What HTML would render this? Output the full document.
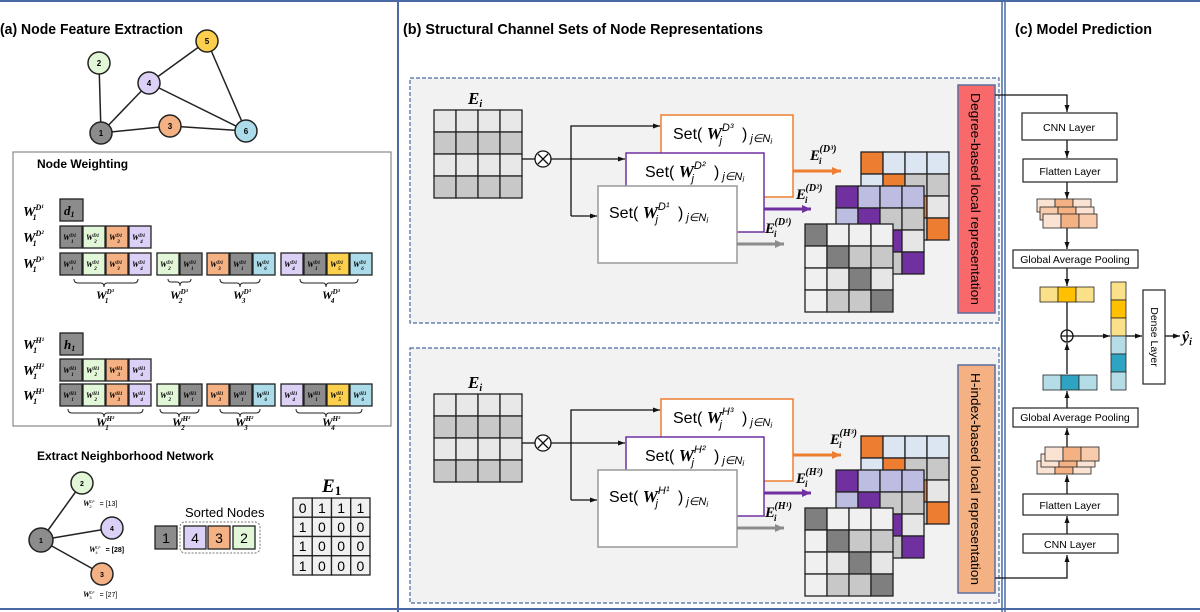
<!DOCTYPE html>
<html><head><meta charset="utf-8"><style>
body{margin:0;background:#fff}
svg{display:block;font-family:"Liberation Sans",sans-serif}
.t{font-weight:bold;font-size:15px}
.m{font-family:"Liberation Serif",serif;font-weight:bold;font-style:italic}
.c{font-family:"Liberation Serif",serif;font-weight:bold;font-style:italic;font-size:8px}
.s{font-size:5px}
.k{stroke:#222;stroke-width:1.5}
.cell{stroke:#222;stroke-width:1.3}
.lbl{font-size:11px}
</style></head><body>
<svg width="1200" height="612" viewBox="0 0 1200 612" xmlns="http://www.w3.org/2000/svg">
<defs>
<marker id="ab" markerWidth="8" markerHeight="8" refX="7" refY="4" orient="auto" markerUnits="userSpaceOnUse"><path d="M0,1.5 L7,4 L0,6.5z" fill="#111"/></marker>
<marker id="ao" markerWidth="10" markerHeight="10" refX="9" refY="5" orient="auto" markerUnits="userSpaceOnUse"><path d="M0,1 L9,5 L0,9z" fill="#ed7d31"/></marker>
<marker id="ap" markerWidth="10" markerHeight="10" refX="9" refY="5" orient="auto" markerUnits="userSpaceOnUse"><path d="M0,1 L9,5 L0,9z" fill="#7030a0"/></marker>
<marker id="ag" markerWidth="10" markerHeight="10" refX="9" refY="5" orient="auto" markerUnits="userSpaceOnUse"><path d="M0,1 L9,5 L0,9z" fill="#8c8c8c"/></marker>
</defs>

<!-- frame -->
<line x1="0" y1="1" x2="1200" y2="1" stroke="#4a6aa5" stroke-width="2"/>
<line x1="0" y1="609" x2="1200" y2="609" stroke="#4a6aa5" stroke-width="2"/>
<line x1="398" y1="0" x2="398" y2="612" stroke="#4a6aa5" stroke-width="2"/>
<line x1="1002" y1="0" x2="1002" y2="612" stroke="#4a6aa5" stroke-width="1.5"/>
<line x1="1005" y1="0" x2="1005" y2="612" stroke="#4a6aa5" stroke-width="1.5"/>

<!-- (a) -->
<text x="0" y="34" class="t" textLength="183" lengthAdjust="spacingAndGlyphs">(a) Node Feature Extraction</text>
<g class="k" stroke="#222" stroke-width="1.5">
<line x1="99" y1="63" x2="101" y2="133"/><line x1="101" y1="133" x2="149" y2="83"/>
<line x1="101" y1="133" x2="170" y2="126"/><line x1="149" y1="83" x2="207" y2="41"/>
<line x1="149" y1="83" x2="246" y2="131"/><line x1="207" y1="41" x2="246" y2="131"/>
<line x1="170" y1="126" x2="246" y2="131"/>
</g>
<g stroke="#222" stroke-width="1.5">
<circle cx="99" cy="63" r="11" fill="#e2f7d8"/><circle cx="207" cy="41" r="11" fill="#fcd04c"/>
<circle cx="149" cy="83" r="11" fill="#ddd0f7"/><circle cx="101" cy="133" r="11" fill="#8c8c8c"/>
<circle cx="170" cy="126" r="11" fill="#f4b183"/><circle cx="246" cy="131" r="11" fill="#acdcea"/>
</g>
<g font-size="8" font-weight="bold" text-anchor="middle">
<text x="99" y="66">2</text><text x="207" y="44">5</text><text x="149" y="86">4</text>
<text x="101" y="136">1</text><text x="170" y="129">3</text><text x="246" y="134">6</text>
</g>

<rect x="13" y="152" width="378" height="274" fill="#fff" stroke="#888" stroke-width="1.2"/>
<text x="37" y="168" font-weight="bold" font-size="12">Node Weighting</text>

<g class="m" font-size="14">
<text x="23" y="216">W<tspan font-size="8" dy="-6">D¹</tspan><tspan font-size="8" dx="-11" dy="10">1</tspan></text>
<text x="23" y="242">W<tspan font-size="8" dy="-6">D²</tspan><tspan font-size="8" dx="-11" dy="10">1</tspan></text>
<text x="23" y="268">W<tspan font-size="8" dy="-6">D³</tspan><tspan font-size="8" dx="-11" dy="10">1</tspan></text>
<text x="23" y="349">W<tspan font-size="8" dy="-6">H¹</tspan><tspan font-size="8" dx="-11" dy="10">1</tspan></text>
<text x="23" y="375">W<tspan font-size="8" dy="-6">H²</tspan><tspan font-size="8" dx="-11" dy="10">1</tspan></text>
<text x="23" y="400">W<tspan font-size="8" dy="-6">H³</tspan><tspan font-size="8" dx="-11" dy="10">1</tspan></text>
</g>

<g class="cell">
<rect x="60" y="199" width="23" height="22" fill="#8c8c8c"/>
<rect x="60" y="333" width="23" height="22" fill="#8c8c8c"/>
</g>
<text x="64" y="215" class="m" font-size="13">d<tspan font-size="8" dy="2">1</tspan></text>
<text x="64" y="349" class="m" font-size="13">h<tspan font-size="8" dy="2">1</tspan></text>

<g class="cell">
<rect x="60" y="226" width="22" height="22" fill="#8c8c8c"/><rect x="83" y="226" width="22" height="22" fill="#e2f7d8"/><rect x="106" y="226" width="22" height="22" fill="#f4b183"/><rect x="129" y="226" width="22" height="22" fill="#ddd0f7"/>
<rect x="60" y="253" width="22" height="22" fill="#8c8c8c"/><rect x="83" y="253" width="22" height="22" fill="#e2f7d8"/><rect x="106" y="253" width="22" height="22" fill="#f4b183"/><rect x="129" y="253" width="22" height="22" fill="#ddd0f7"/>
<rect x="157" y="253" width="22" height="22" fill="#e2f7d8"/><rect x="180" y="253" width="22" height="22" fill="#8c8c8c"/>
<rect x="207" y="253" width="22" height="22" fill="#f4b183"/><rect x="230" y="253" width="22" height="22" fill="#8c8c8c"/><rect x="253" y="253" width="22" height="22" fill="#acdcea"/>
<rect x="281" y="253" width="22" height="22" fill="#ddd0f7"/><rect x="304" y="253" width="22" height="22" fill="#8c8c8c"/><rect x="327" y="253" width="22" height="22" fill="#fcd04c"/><rect x="350" y="253" width="22" height="22" fill="#acdcea"/>
<rect x="60" y="359" width="22" height="22" fill="#8c8c8c"/><rect x="83" y="359" width="22" height="22" fill="#e2f7d8"/><rect x="106" y="359" width="22" height="22" fill="#f4b183"/><rect x="129" y="359" width="22" height="22" fill="#ddd0f7"/>
<rect x="60" y="384" width="22" height="22" fill="#8c8c8c"/><rect x="83" y="384" width="22" height="22" fill="#e2f7d8"/><rect x="106" y="384" width="22" height="22" fill="#f4b183"/><rect x="129" y="384" width="22" height="22" fill="#ddd0f7"/>
<rect x="157" y="384" width="22" height="22" fill="#e2f7d8"/><rect x="180" y="384" width="22" height="22" fill="#8c8c8c"/>
<rect x="207" y="384" width="22" height="22" fill="#f4b183"/><rect x="230" y="384" width="22" height="22" fill="#8c8c8c"/><rect x="253" y="384" width="22" height="22" fill="#acdcea"/>
<rect x="281" y="384" width="22" height="22" fill="#ddd0f7"/><rect x="304" y="384" width="22" height="22" fill="#8c8c8c"/><rect x="327" y="384" width="22" height="22" fill="#fcd04c"/><rect x="350" y="384" width="22" height="22" fill="#acdcea"/>
</g>
<g class="c">
<text x="63" y="240">W<tspan class="s" dy="-3">D1</tspan><tspan class="s" dx="-5" dy="6">1</tspan></text>
<text x="86" y="240">W<tspan class="s" dy="-3">D1</tspan><tspan class="s" dx="-5" dy="6">2</tspan></text>
<text x="109" y="240">W<tspan class="s" dy="-3">D1</tspan><tspan class="s" dx="-5" dy="6">3</tspan></text>
<text x="132" y="240">W<tspan class="s" dy="-3">D1</tspan><tspan class="s" dx="-5" dy="6">4</tspan></text>
<text x="63" y="267">W<tspan class="s" dy="-3">D1</tspan><tspan class="s" dx="-5" dy="6">1</tspan></text>
<text x="86" y="267">W<tspan class="s" dy="-3">D1</tspan><tspan class="s" dx="-5" dy="6">2</tspan></text>
<text x="109" y="267">W<tspan class="s" dy="-3">D1</tspan><tspan class="s" dx="-5" dy="6">3</tspan></text>
<text x="132" y="267">W<tspan class="s" dy="-3">D1</tspan><tspan class="s" dx="-5" dy="6">4</tspan></text>
<text x="160" y="267">W<tspan class="s" dy="-3">D1</tspan><tspan class="s" dx="-5" dy="6">2</tspan></text>
<text x="183" y="267">W<tspan class="s" dy="-3">D1</tspan><tspan class="s" dx="-5" dy="6">1</tspan></text>
<text x="210" y="267">W<tspan class="s" dy="-3">D1</tspan><tspan class="s" dx="-5" dy="6">3</tspan></text>
<text x="233" y="267">W<tspan class="s" dy="-3">D1</tspan><tspan class="s" dx="-5" dy="6">1</tspan></text>
<text x="256" y="267">W<tspan class="s" dy="-3">D1</tspan><tspan class="s" dx="-5" dy="6">6</tspan></text>
<text x="284" y="267">W<tspan class="s" dy="-3">D1</tspan><tspan class="s" dx="-5" dy="6">4</tspan></text>
<text x="307" y="267">W<tspan class="s" dy="-3">D1</tspan><tspan class="s" dx="-5" dy="6">1</tspan></text>
<text x="330" y="267">W<tspan class="s" dy="-3">D1</tspan><tspan class="s" dx="-5" dy="6">5</tspan></text>
<text x="353" y="267">W<tspan class="s" dy="-3">D1</tspan><tspan class="s" dx="-5" dy="6">6</tspan></text>
<text x="63" y="373">W<tspan class="s" dy="-3">H1</tspan><tspan class="s" dx="-5" dy="6">1</tspan></text>
<text x="86" y="373">W<tspan class="s" dy="-3">H1</tspan><tspan class="s" dx="-5" dy="6">2</tspan></text>
<text x="109" y="373">W<tspan class="s" dy="-3">H1</tspan><tspan class="s" dx="-5" dy="6">3</tspan></text>
<text x="132" y="373">W<tspan class="s" dy="-3">H1</tspan><tspan class="s" dx="-5" dy="6">4</tspan></text>
<text x="63" y="398">W<tspan class="s" dy="-3">H1</tspan><tspan class="s" dx="-5" dy="6">1</tspan></text>
<text x="86" y="398">W<tspan class="s" dy="-3">H1</tspan><tspan class="s" dx="-5" dy="6">2</tspan></text>
<text x="109" y="398">W<tspan class="s" dy="-3">H1</tspan><tspan class="s" dx="-5" dy="6">3</tspan></text>
<text x="132" y="398">W<tspan class="s" dy="-3">H1</tspan><tspan class="s" dx="-5" dy="6">4</tspan></text>
<text x="160" y="398">W<tspan class="s" dy="-3">H1</tspan><tspan class="s" dx="-5" dy="6">2</tspan></text>
<text x="183" y="398">W<tspan class="s" dy="-3">H1</tspan><tspan class="s" dx="-5" dy="6">1</tspan></text>
<text x="210" y="398">W<tspan class="s" dy="-3">H1</tspan><tspan class="s" dx="-5" dy="6">3</tspan></text>
<text x="233" y="398">W<tspan class="s" dy="-3">H1</tspan><tspan class="s" dx="-5" dy="6">1</tspan></text>
<text x="256" y="398">W<tspan class="s" dy="-3">H1</tspan><tspan class="s" dx="-5" dy="6">6</tspan></text>
<text x="284" y="398">W<tspan class="s" dy="-3">H1</tspan><tspan class="s" dx="-5" dy="6">4</tspan></text>
<text x="307" y="398">W<tspan class="s" dy="-3">H1</tspan><tspan class="s" dx="-5" dy="6">1</tspan></text>
<text x="330" y="398">W<tspan class="s" dy="-3">H1</tspan><tspan class="s" dx="-5" dy="6">5</tspan></text>
<text x="353" y="398">W<tspan class="s" dy="-3">H1</tspan><tspan class="s" dx="-5" dy="6">6</tspan></text>
</g>
<g fill="none" stroke="#222" stroke-width="1">
<path d="M74 279 q0 4 4 4 H101 q3 0 3 4 q0 -4 3 -4 H134 q4 0 4 -4"/>
<path d="M168 279 q0 3 3 3 H177 q3 0 3 4 q0 -4 3 -4 H188 q3 0 3 -3"/>
<path d="M220 279 q0 4 4 4 H237 q3 0 3 4 q0 -4 3 -4 H256 q4 0 4 -4"/>
<path d="M300 279 q0 4 4 4 H323 q3 0 3 4 q0 -4 3 -4 H354 q4 0 4 -4"/>
<path d="M68 409 q0 4 4 4 H101 q3 0 3 4 q0 -4 3 -4 H139 q4 0 4 -4"/>
<path d="M160 409 q0 4 4 4 H176 q3 0 3 4 q0 -4 3 -4 H195 q4 0 4 -4"/>
<path d="M220 409 q0 4 4 4 H237 q3 0 3 4 q0 -4 3 -4 H256 q4 0 4 -4"/>
<path d="M296 409 q0 4 4 4 H323 q3 0 3 4 q0 -4 3 -4 H358 q4 0 4 -4"/>
</g>
<g class="m" font-size="12">
<text x="96" y="299">W<tspan font-size="7" dy="-5">D³</tspan><tspan font-size="7" dx="-9" dy="9">1</tspan></text>
<text x="170" y="299">W<tspan font-size="7" dy="-5">D³</tspan><tspan font-size="7" dx="-9" dy="9">2</tspan></text>
<text x="233" y="299">W<tspan font-size="7" dy="-5">D³</tspan><tspan font-size="7" dx="-9" dy="9">3</tspan></text>
<text x="322" y="299">W<tspan font-size="7" dy="-5">D³</tspan><tspan font-size="7" dx="-9" dy="9">4</tspan></text>
<text x="96" y="426">W<tspan font-size="7" dy="-5">H²</tspan><tspan font-size="7" dx="-9" dy="9">1</tspan></text>
<text x="172" y="426">W<tspan font-size="7" dy="-5">H²</tspan><tspan font-size="7" dx="-9" dy="9">2</tspan></text>
<text x="235" y="426">W<tspan font-size="7" dy="-5">H²</tspan><tspan font-size="7" dx="-9" dy="9">3</tspan></text>
<text x="322" y="426">W<tspan font-size="7" dy="-5">H²</tspan><tspan font-size="7" dx="-9" dy="9">4</tspan></text>
</g>

<text x="37" y="460" font-weight="bold" font-size="12">Extract Neighborhood Network</text>
<g stroke="#222" stroke-width="1.5">
<line x1="41" y1="540" x2="82" y2="483"/><line x1="41" y1="540" x2="112" y2="528"/><line x1="41" y1="540" x2="102" y2="574"/>
<circle cx="82" cy="483" r="11" fill="#e2f7d8"/><circle cx="112" cy="528" r="11" fill="#ddd0f7"/>
<circle cx="102" cy="574" r="11" fill="#f4b183"/><circle cx="41" cy="540" r="12" fill="#8c8c8c"/>
</g>
<g font-size="7" font-weight="bold" text-anchor="middle">
<text x="82" y="486">2</text><text x="112" y="531">4</text><text x="102" y="577">3</text><text x="41" y="543">1</text>
</g>
<g font-size="7">
<text x="83" y="506"><tspan class="c" font-size="7">W</tspan><tspan font-size="4" dy="-3">D³</tspan><tspan font-size="4" dx="-5" dy="5">2</tspan><tspan dx="8" dy="-2">= [13]</tspan></text>
<text x="89" y="552"><tspan class="c" font-size="7">W</tspan><tspan font-size="4" dy="-3">D³</tspan><tspan font-size="4" dx="-5" dy="5">4</tspan><tspan dx="8" dy="-2" font-weight="bold">= [28]</tspan></text>
<text x="83" y="597"><tspan class="c" font-size="7">W</tspan><tspan font-size="4" dy="-3">D³</tspan><tspan font-size="4" dx="-5" dy="5">3</tspan><tspan dx="8" dy="-2">= [27]</tspan></text>
</g>
<text x="185" y="517" font-size="13">Sorted Nodes</text>
<rect x="180" y="522" width="80" height="31" rx="5" fill="none" stroke="#777" stroke-dasharray="2,1.5"/>
<g class="cell">
<rect x="155" y="526" width="22" height="23" fill="#8c8c8c"/>
<rect x="184" y="526" width="22" height="23" fill="#ddd0f7"/>
<rect x="208" y="526" width="22" height="23" fill="#f4b183"/>
<rect x="233" y="526" width="22" height="23" fill="#e2f7d8"/>
</g>
<g font-size="14" text-anchor="middle"><text x="166" y="543">1</text><text x="195" y="543">4</text><text x="219" y="543">3</text><text x="244" y="543">2</text></g>
<text x="322" y="492" class="m" font-size="19">E<tspan font-size="13" dy="3" font-style="normal">1</tspan></text>
<g class="cell" fill="#f0f0f0">
<rect x="293" y="498" width="19.25" height="19.25"/><rect x="312.25" y="498" width="19.25" height="19.25"/><rect x="331.5" y="498" width="19.25" height="19.25"/><rect x="350.75" y="498" width="19.25" height="19.25"/>
<rect x="293" y="517.25" width="19.25" height="19.25"/><rect x="312.25" y="517.25" width="19.25" height="19.25"/><rect x="331.5" y="517.25" width="19.25" height="19.25"/><rect x="350.75" y="517.25" width="19.25" height="19.25"/>
<rect x="293" y="536.5" width="19.25" height="19.25"/><rect x="312.25" y="536.5" width="19.25" height="19.25"/><rect x="331.5" y="536.5" width="19.25" height="19.25"/><rect x="350.75" y="536.5" width="19.25" height="19.25"/>
<rect x="293" y="555.75" width="19.25" height="19.25"/><rect x="312.25" y="555.75" width="19.25" height="19.25"/><rect x="331.5" y="555.75" width="19.25" height="19.25"/><rect x="350.75" y="555.75" width="19.25" height="19.25"/>
</g>
<g font-size="14" text-anchor="middle">
<text x="302.6" y="513">0</text><text x="321.9" y="513">1</text><text x="341.1" y="513">1</text><text x="360.4" y="513">1</text>
<text x="302.6" y="532">1</text><text x="321.9" y="532">0</text><text x="341.1" y="532">0</text><text x="360.4" y="532">0</text>
<text x="302.6" y="551">1</text><text x="321.9" y="551">0</text><text x="341.1" y="551">0</text><text x="360.4" y="551">0</text>
<text x="302.6" y="571">1</text><text x="321.9" y="571">0</text><text x="341.1" y="571">0</text><text x="360.4" y="571">0</text>
</g>

<!-- (b) -->
<text x="403" y="34" class="t" textLength="360" lengthAdjust="spacingAndGlyphs">(b) Structural Channel Sets of Node Representations</text>
<rect x="410" y="78" width="589" height="245" fill="#f2f2f2" stroke="#4a6aa5" stroke-width="1.2" stroke-dasharray="4,2"/>
<rect x="410" y="348" width="589" height="255" fill="#f2f2f2" stroke="#4a6aa5" stroke-width="1.2" stroke-dasharray="4,2"/>

<g>
<text x="468" y="104" class="m" font-size="17">E<tspan font-size="10" dy="3">i</tspan></text>
<g class="cell">
<rect x="434" y="110" width="22" height="22" fill="#e8e8e8"/><rect x="456" y="110" width="22" height="22" fill="#e8e8e8"/><rect x="478" y="110" width="22" height="22" fill="#e8e8e8"/><rect x="500" y="110" width="22" height="22" fill="#e8e8e8"/>
<rect x="434" y="132" width="22" height="22" fill="#c8c8c8"/><rect x="456" y="132" width="22" height="22" fill="#c8c8c8"/><rect x="478" y="132" width="22" height="22" fill="#c8c8c8"/><rect x="500" y="132" width="22" height="22" fill="#c8c8c8"/>
<rect x="434" y="154" width="22" height="22" fill="#e8e8e8"/><rect x="456" y="154" width="22" height="22" fill="#e8e8e8"/><rect x="478" y="154" width="22" height="22" fill="#e8e8e8"/><rect x="500" y="154" width="22" height="22" fill="#e8e8e8"/>
<rect x="434" y="176" width="22" height="22" fill="#c8c8c8"/><rect x="456" y="176" width="22" height="22" fill="#c8c8c8"/><rect x="478" y="176" width="22" height="22" fill="#c8c8c8"/><rect x="500" y="176" width="22" height="22" fill="#c8c8c8"/>
</g>
<g stroke="#111" stroke-width="1.3" fill="none">
<line x1="522" y1="159" x2="535" y2="159"/>
<circle cx="543" cy="159" r="8" fill="#fff"/>
<path d="M538 154 L548 164 M548 154 L538 164"/>
<line x1="551" y1="159" x2="625" y2="159" marker-end="url(#ab)"/>
<path d="M571 216 V126 H660" marker-end="url(#ab)"/>
<path d="M571 216 H597" marker-end="url(#ab)"/>
</g>
<rect x="661" y="115" width="132" height="82" fill="#fff" stroke="#ed7d31" stroke-width="1.5"/>
<rect x="626" y="153" width="138" height="79" fill="#fff" stroke="#7030a0" stroke-width="1.5"/>
<rect x="598" y="186" width="139" height="77" fill="#fff" stroke="#999" stroke-width="1.5"/>
<line x1="793" y1="171" x2="841" y2="171" stroke="#ed7d31" stroke-width="3" marker-end="url(#ao)"/>
<line x1="764" y1="209" x2="811" y2="209" stroke="#7030a0" stroke-width="3" marker-end="url(#ap)"/>
<line x1="737" y1="244" x2="784" y2="244" stroke="#8c8c8c" stroke-width="3" marker-end="url(#ag)"/>
<g font-size="16">
<text x="673" y="139">Set( <tspan class="m" font-size="17">W</tspan><tspan font-size="11" font-style="italic" dy="-8">D³</tspan><tspan font-size="11" font-style="italic" dx="-14" dy="13">j</tspan><tspan dx="20" dy="-5">)</tspan><tspan font-size="11" font-style="italic" dy="3"> j∈N</tspan><tspan font-size="8" font-style="italic" dy="2">i</tspan></text>
<text x="645" y="177">Set( <tspan class="m" font-size="17">W</tspan><tspan font-size="11" font-style="italic" dy="-8">D²</tspan><tspan font-size="11" font-style="italic" dx="-14" dy="13">j</tspan><tspan dx="20" dy="-5">)</tspan><tspan font-size="11" font-style="italic" dy="3"> j∈N</tspan><tspan font-size="8" font-style="italic" dy="2">i</tspan></text>
<text x="609" y="218">Set( <tspan class="m" font-size="17">W</tspan><tspan font-size="11" font-style="italic" dy="-8">D¹</tspan><tspan font-size="11" font-style="italic" dx="-14" dy="13">j</tspan><tspan dx="20" dy="-5">)</tspan><tspan font-size="11" font-style="italic" dy="3"> j∈N</tspan><tspan font-size="8" font-style="italic" dy="2">i</tspan></text>
</g>
<g class="m" font-size="15">
<text x="810" y="160">E<tspan font-size="9" dx="-1" dy="4">i</tspan><tspan font-size="10" dx="-2" dy="-12">(D³)</tspan></text>
<text x="796" y="199">E<tspan font-size="9" dx="-1" dy="4">i</tspan><tspan font-size="10" dx="-2" dy="-12">(D²)</tspan></text>
<text x="765" y="233">E<tspan font-size="9" dx="-1" dy="4">i</tspan><tspan font-size="10" dx="-2" dy="-12">(D¹)</tspan></text>
</g>
<g class="cell">
<rect x="861" y="152" width="22" height="22" fill="#ed7d31"/><rect x="883" y="152" width="22" height="22" fill="#dce6f2"/><rect x="905" y="152" width="22" height="22" fill="#dce6f2"/><rect x="927" y="152" width="22" height="22" fill="#dce6f2"/>
<rect x="861" y="174" width="22" height="22" fill="#dce6f2"/><rect x="883" y="174" width="22" height="22" fill="#ed7d31"/><rect x="905" y="174" width="22" height="22" fill="#c8c8c8"/><rect x="927" y="174" width="22" height="22" fill="#c8c8c8"/>
<rect x="861" y="196" width="22" height="22" fill="#e6e6e6"/><rect x="883" y="196" width="22" height="22" fill="#c8c8c8"/><rect x="905" y="196" width="22" height="22" fill="#ed7d31"/><rect x="927" y="196" width="22" height="22" fill="#e6e6e6"/>
<rect x="861" y="218" width="22" height="22" fill="#c8c8c8"/><rect x="883" y="218" width="22" height="22" fill="#e6e6e6"/><rect x="905" y="218" width="22" height="22" fill="#c8c8c8"/><rect x="927" y="218" width="22" height="22" fill="#ed7d31"/>
<rect x="836" y="186" width="22" height="22" fill="#7030a0"/><rect x="858" y="186" width="22" height="22" fill="#bcbde0"/><rect x="880" y="186" width="22" height="22" fill="#bcbde0"/><rect x="902" y="186" width="22" height="22" fill="#bcbde0"/>
<rect x="836" y="208" width="22" height="22" fill="#bcbde0"/><rect x="858" y="208" width="22" height="22" fill="#7030a0"/><rect x="880" y="208" width="22" height="22" fill="#c8c8c8"/><rect x="902" y="208" width="22" height="22" fill="#c8c8c8"/>
<rect x="836" y="230" width="22" height="22" fill="#c8c8c8"/><rect x="858" y="230" width="22" height="22" fill="#e6e6e6"/><rect x="880" y="230" width="22" height="22" fill="#7030a0"/><rect x="902" y="230" width="22" height="22" fill="#e6e6e6"/>
<rect x="836" y="252" width="22" height="22" fill="#e6e6e6"/><rect x="858" y="252" width="22" height="22" fill="#c8c8c8"/><rect x="880" y="252" width="22" height="22" fill="#c8c8c8"/><rect x="902" y="252" width="22" height="22" fill="#7030a0"/>
<rect x="805" y="224" width="22" height="22" fill="#7f7f7f"/><rect x="827" y="224" width="22" height="22" fill="#f0f0f0"/><rect x="849" y="224" width="22" height="22" fill="#f0f0f0"/><rect x="871" y="224" width="22" height="22" fill="#f0f0f0"/>
<rect x="805" y="246" width="22" height="22" fill="#f0f0f0"/><rect x="827" y="246" width="22" height="22" fill="#7f7f7f"/><rect x="849" y="246" width="22" height="22" fill="#c8c8c8"/><rect x="871" y="246" width="22" height="22" fill="#c8c8c8"/>
<rect x="805" y="268" width="22" height="22" fill="#f0f0f0"/><rect x="827" y="268" width="22" height="22" fill="#e6e6e6"/><rect x="849" y="268" width="22" height="22" fill="#7f7f7f"/><rect x="871" y="268" width="22" height="22" fill="#e6e6e6"/>
<rect x="805" y="290" width="22" height="22" fill="#f0f0f0"/><rect x="827" y="290" width="22" height="22" fill="#c8c8c8"/><rect x="849" y="290" width="22" height="22" fill="#c8c8c8"/><rect x="871" y="290" width="22" height="22" fill="#7f7f7f"/>
</g>
</g>

<g transform="translate(0,284)">
<text x="468" y="104" class="m" font-size="17">E<tspan font-size="10" dy="3">i</tspan></text>
<g class="cell">
<rect x="434" y="110" width="22" height="22" fill="#e8e8e8"/><rect x="456" y="110" width="22" height="22" fill="#e8e8e8"/><rect x="478" y="110" width="22" height="22" fill="#e8e8e8"/><rect x="500" y="110" width="22" height="22" fill="#e8e8e8"/>
<rect x="434" y="132" width="22" height="22" fill="#c8c8c8"/><rect x="456" y="132" width="22" height="22" fill="#c8c8c8"/><rect x="478" y="132" width="22" height="22" fill="#c8c8c8"/><rect x="500" y="132" width="22" height="22" fill="#c8c8c8"/>
<rect x="434" y="154" width="22" height="22" fill="#e8e8e8"/><rect x="456" y="154" width="22" height="22" fill="#e8e8e8"/><rect x="478" y="154" width="22" height="22" fill="#e8e8e8"/><rect x="500" y="154" width="22" height="22" fill="#e8e8e8"/>
<rect x="434" y="176" width="22" height="22" fill="#c8c8c8"/><rect x="456" y="176" width="22" height="22" fill="#c8c8c8"/><rect x="478" y="176" width="22" height="22" fill="#c8c8c8"/><rect x="500" y="176" width="22" height="22" fill="#c8c8c8"/>
</g>
<g stroke="#111" stroke-width="1.3" fill="none">
<line x1="522" y1="159" x2="535" y2="159"/>
<circle cx="543" cy="159" r="8" fill="#fff"/>
<path d="M538 154 L548 164 M548 154 L538 164"/>
<line x1="551" y1="159" x2="625" y2="159" marker-end="url(#ab)"/>
<path d="M571 216 V126 H660" marker-end="url(#ab)"/>
<path d="M571 216 H597" marker-end="url(#ab)"/>
</g>
<rect x="661" y="115" width="132" height="82" fill="#fff" stroke="#ed7d31" stroke-width="1.5"/>
<rect x="626" y="153" width="138" height="79" fill="#fff" stroke="#7030a0" stroke-width="1.5"/>
<rect x="598" y="186" width="139" height="77" fill="#fff" stroke="#999" stroke-width="1.5"/>
<line x1="793" y1="171" x2="841" y2="171" stroke="#ed7d31" stroke-width="3" marker-end="url(#ao)"/>
<line x1="764" y1="209" x2="811" y2="209" stroke="#7030a0" stroke-width="3" marker-end="url(#ap)"/>
<line x1="737" y1="244" x2="784" y2="244" stroke="#8c8c8c" stroke-width="3" marker-end="url(#ag)"/>
<g font-size="16">
<text x="673" y="139">Set( <tspan class="m" font-size="17">W</tspan><tspan font-size="11" font-style="italic" dy="-8">H³</tspan><tspan font-size="11" font-style="italic" dx="-14" dy="13">j</tspan><tspan dx="20" dy="-5">)</tspan><tspan font-size="11" font-style="italic" dy="3"> j∈N</tspan><tspan font-size="8" font-style="italic" dy="2">i</tspan></text>
<text x="645" y="177">Set( <tspan class="m" font-size="17">W</tspan><tspan font-size="11" font-style="italic" dy="-8">H²</tspan><tspan font-size="11" font-style="italic" dx="-14" dy="13">j</tspan><tspan dx="20" dy="-5">)</tspan><tspan font-size="11" font-style="italic" dy="3"> j∈N</tspan><tspan font-size="8" font-style="italic" dy="2">i</tspan></text>
<text x="609" y="218">Set( <tspan class="m" font-size="17">W</tspan><tspan font-size="11" font-style="italic" dy="-8">H¹</tspan><tspan font-size="11" font-style="italic" dx="-14" dy="13">j</tspan><tspan dx="20" dy="-5">)</tspan><tspan font-size="11" font-style="italic" dy="3"> j∈N</tspan><tspan font-size="8" font-style="italic" dy="2">i</tspan></text>
</g>
<g class="m" font-size="15">
<text x="830" y="160">E<tspan font-size="9" dx="-1" dy="4">i</tspan><tspan font-size="10" dx="-2" dy="-12">(H³)</tspan></text>
<text x="796" y="199">E<tspan font-size="9" dx="-1" dy="4">i</tspan><tspan font-size="10" dx="-2" dy="-12">(H²)</tspan></text>
<text x="765" y="233">E<tspan font-size="9" dx="-1" dy="4">i</tspan><tspan font-size="10" dx="-2" dy="-12">(H¹)</tspan></text>
</g>
<g class="cell">
<rect x="861" y="152" width="22" height="22" fill="#ed7d31"/><rect x="883" y="152" width="22" height="22" fill="#dce6f2"/><rect x="905" y="152" width="22" height="22" fill="#dce6f2"/><rect x="927" y="152" width="22" height="22" fill="#dce6f2"/>
<rect x="861" y="174" width="22" height="22" fill="#dce6f2"/><rect x="883" y="174" width="22" height="22" fill="#ed7d31"/><rect x="905" y="174" width="22" height="22" fill="#c8c8c8"/><rect x="927" y="174" width="22" height="22" fill="#c8c8c8"/>
<rect x="861" y="196" width="22" height="22" fill="#e6e6e6"/><rect x="883" y="196" width="22" height="22" fill="#c8c8c8"/><rect x="905" y="196" width="22" height="22" fill="#ed7d31"/><rect x="927" y="196" width="22" height="22" fill="#e6e6e6"/>
<rect x="861" y="218" width="22" height="22" fill="#c8c8c8"/><rect x="883" y="218" width="22" height="22" fill="#e6e6e6"/><rect x="905" y="218" width="22" height="22" fill="#c8c8c8"/><rect x="927" y="218" width="22" height="22" fill="#ed7d31"/>
<rect x="836" y="186" width="22" height="22" fill="#7030a0"/><rect x="858" y="186" width="22" height="22" fill="#bcbde0"/><rect x="880" y="186" width="22" height="22" fill="#bcbde0"/><rect x="902" y="186" width="22" height="22" fill="#bcbde0"/>
<rect x="836" y="208" width="22" height="22" fill="#bcbde0"/><rect x="858" y="208" width="22" height="22" fill="#7030a0"/><rect x="880" y="208" width="22" height="22" fill="#c8c8c8"/><rect x="902" y="208" width="22" height="22" fill="#c8c8c8"/>
<rect x="836" y="230" width="22" height="22" fill="#c8c8c8"/><rect x="858" y="230" width="22" height="22" fill="#e6e6e6"/><rect x="880" y="230" width="22" height="22" fill="#7030a0"/><rect x="902" y="230" width="22" height="22" fill="#e6e6e6"/>
<rect x="836" y="252" width="22" height="22" fill="#e6e6e6"/><rect x="858" y="252" width="22" height="22" fill="#c8c8c8"/><rect x="880" y="252" width="22" height="22" fill="#c8c8c8"/><rect x="902" y="252" width="22" height="22" fill="#7030a0"/>
<rect x="805" y="224" width="22" height="22" fill="#7f7f7f"/><rect x="827" y="224" width="22" height="22" fill="#f0f0f0"/><rect x="849" y="224" width="22" height="22" fill="#f0f0f0"/><rect x="871" y="224" width="22" height="22" fill="#f0f0f0"/>
<rect x="805" y="246" width="22" height="22" fill="#f0f0f0"/><rect x="827" y="246" width="22" height="22" fill="#7f7f7f"/><rect x="849" y="246" width="22" height="22" fill="#c8c8c8"/><rect x="871" y="246" width="22" height="22" fill="#c8c8c8"/>
<rect x="805" y="268" width="22" height="22" fill="#f0f0f0"/><rect x="827" y="268" width="22" height="22" fill="#e6e6e6"/><rect x="849" y="268" width="22" height="22" fill="#7f7f7f"/><rect x="871" y="268" width="22" height="22" fill="#e6e6e6"/>
<rect x="805" y="290" width="22" height="22" fill="#f0f0f0"/><rect x="827" y="290" width="22" height="22" fill="#c8c8c8"/><rect x="849" y="290" width="22" height="22" fill="#c8c8c8"/><rect x="871" y="290" width="22" height="22" fill="#7f7f7f"/>
</g>
</g>

<rect x="958" y="85" width="37" height="228" fill="#f8696b" stroke="#5a6fa0" stroke-width="1.5"/>
<rect x="958" y="365" width="37" height="228" fill="#f4b183" stroke="#5a6fa0" stroke-width="1.5"/>
<text transform="translate(971,199) rotate(90)" text-anchor="middle" font-size="13" textLength="212" lengthAdjust="spacingAndGlyphs">Degree-based local representation</text>
<text transform="translate(971,479) rotate(90)" text-anchor="middle" font-size="13" textLength="212" lengthAdjust="spacingAndGlyphs">H-index-based local representation</text>

<!-- (c) -->
<text x="1015" y="34" class="t" textLength="137" lengthAdjust="spacingAndGlyphs">(c) Model Prediction</text>
<g stroke="#111" stroke-width="1.3" fill="none">
<path d="M995 95 H1067 V112" marker-end="url(#ab)"/>
<path d="M995 578 H1067 V555" marker-end="url(#ab)"/>
<line x1="1067" y1="140" x2="1067" y2="158" marker-end="url(#ab)"/>
<line x1="1067" y1="182" x2="1067" y2="199" marker-end="url(#ab)"/>
<line x1="1067" y1="228" x2="1067" y2="249" marker-end="url(#ab)"/>
<line x1="1067" y1="268" x2="1067" y2="286" marker-end="url(#ab)"/>
<line x1="1067" y1="302" x2="1067" y2="330"/>
<line x1="1067" y1="374" x2="1067" y2="343" marker-end="url(#ab)"/>
<line x1="1067" y1="408" x2="1067" y2="391" marker-end="url(#ab)"/>
<line x1="1067" y1="447" x2="1067" y2="428" marker-end="url(#ab)"/>
<line x1="1067" y1="494" x2="1067" y2="475" marker-end="url(#ab)"/>
<line x1="1067" y1="534" x2="1067" y2="516" marker-end="url(#ab)"/>
<line x1="1073" y1="336" x2="1110" y2="336" marker-end="url(#ab)"/>
<line x1="1126" y1="336" x2="1142" y2="336" marker-end="url(#ab)"/>
<line x1="1165" y1="336" x2="1180" y2="336" marker-end="url(#ab)"/>
<circle cx="1067" cy="336" r="6" fill="#fff"/>
<path d="M1061 336 H1073 M1067 330 V342"/>
</g>
<g fill="#fff" stroke="#222" stroke-width="1.2">
<rect x="1022" y="113" width="95" height="27"/>
<rect x="1023" y="159" width="94" height="23"/>
<rect x="1013" y="250" width="125" height="18"/>
<rect x="1013" y="408" width="125" height="19"/>
<rect x="1023" y="494" width="95" height="21"/>
<rect x="1023" y="534" width="95" height="19"/>
<rect x="1143" y="290" width="22" height="94"/>
</g>
<g font-size="10.5" text-anchor="middle">
<text x="1069" y="131">CNN Layer</text>
<text x="1070" y="175">Flatten Layer</text>
<text x="1075" y="263">Global Average Pooling</text>
<text x="1075" y="421">Global Average Pooling</text>
<text x="1070" y="509">Flatten Layer</text>
<text x="1070" y="548">CNN Layer</text>
</g>
<text transform="translate(1151,337) rotate(90)" text-anchor="middle" font-size="10.5">Dense Layer</text>
<text x="1182" y="342" class="m" font-size="16">ŷ<tspan font-size="10" dy="3">i</tspan></text>
<g stroke="#222" stroke-width="0.8">
<rect x="1037" y="199" width="18" height="13" fill="#fbe3d3"/><rect x="1055" y="199" width="18" height="13" fill="#f4b183"/><rect x="1073" y="199" width="18" height="13" fill="#fbe3d3"/>
<rect x="1040" y="207" width="18" height="13" fill="#f8cbad"/><rect x="1058" y="207" width="18" height="13" fill="#f4b183"/><rect x="1076" y="207" width="18" height="13" fill="#fbe3d3"/>
<rect x="1043" y="214" width="18" height="14" fill="#fbe3d3"/><rect x="1061" y="214" width="18" height="14" fill="#f4b183"/><rect x="1079" y="214" width="18" height="14" fill="#f8cbad"/>
<rect x="1037" y="461" width="18" height="13" fill="#fbe3d3"/><rect x="1055" y="461" width="18" height="13" fill="#f4b183"/><rect x="1073" y="461" width="18" height="13" fill="#fbe3d3"/>
<rect x="1041" y="454" width="18" height="13" fill="#fbe3d3"/><rect x="1059" y="454" width="18" height="13" fill="#f4b183"/><rect x="1077" y="454" width="18" height="13" fill="#fbe3d3"/>
<rect x="1045" y="447" width="18" height="14" fill="#fbe3d3"/><rect x="1063" y="447" width="18" height="14" fill="#f4b183"/><rect x="1081" y="447" width="18" height="14" fill="#f8cbad"/>
<rect x="1040" y="287" width="18" height="15" fill="#fbe08a"/><rect x="1058" y="287" width="18" height="15" fill="#ffc000"/><rect x="1076" y="287" width="18" height="15" fill="#fbe08a"/>
<rect x="1043" y="375" width="18" height="15" fill="#b4dde8"/><rect x="1061" y="375" width="18" height="15" fill="#2fa4c2"/><rect x="1079" y="375" width="18" height="15" fill="#b4dde8"/>
<rect x="1111" y="282" width="15" height="18" fill="#fbe08a"/><rect x="1111" y="300" width="15" height="18" fill="#ffc000"/><rect x="1111" y="318" width="15" height="18" fill="#fbe08a"/>
<rect x="1111" y="336" width="15" height="18" fill="#b4dde8"/><rect x="1111" y="354" width="15" height="18" fill="#2fa4c2"/><rect x="1111" y="372" width="15" height="18" fill="#b4dde8"/>
</g>
</svg>
</body></html>
